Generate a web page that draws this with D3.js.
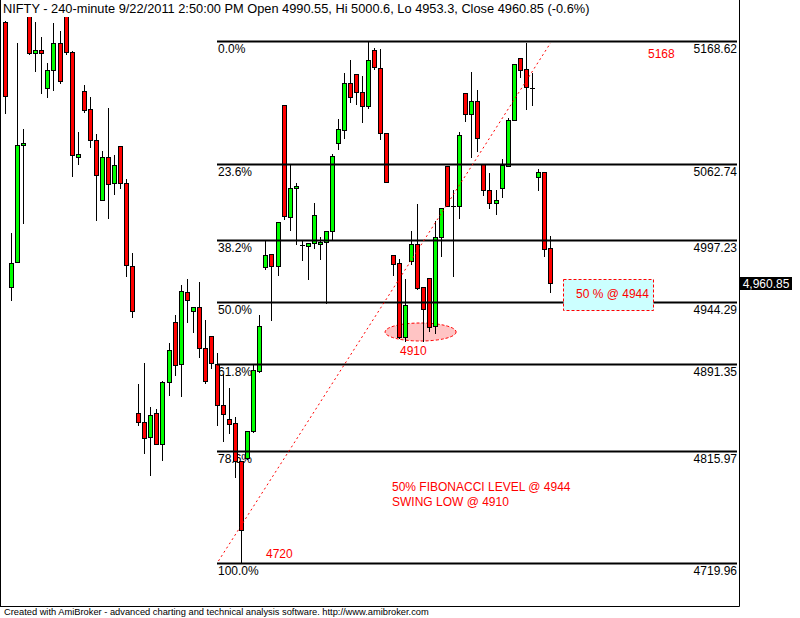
<!DOCTYPE html>
<html><head><meta charset="utf-8">
<script src="https://cdn.jsdelivr.net/npm/d3@7"></script>
<style>body{margin:0;background:#fff} svg{display:block}</style>
</head><body><svg id="c" width="800" height="618"></svg>
<script>
// ---- DATA ----
const opens  = [5184.95,4957.18,4978.67,5079.23,5196.98,5158.31,5160.88,5128.22,5143.69,5166.90,5196.98,5159.17,5068.92,5125.64,5110.17,5083.53,5031.96,5068.92,5046.57,5078.37,5046.57,4975.23,4848.88,4841.15,4828.25,4848.88,4822.24,4875.53,4927.10,4891.00,4952.88,4936.55,4939.99,4904.75,4915.06,4891.00,4855.76,4843.73,4840.29,4807.63,4810.20,4833.41,4884.98,4974.37,4985.54,4975.23,5113.61,5017.35,5042.27,4992.90,4992.42,4995.00,4994.14,4995.86,5005.31,5080.95,5092.12,5132.52,5140.26,5124.79,5112.75,5160.88,5145.41,5089.55,4984.68,4977.81,4914.20,4979.53,4994.14,4957.18,4964.92,4923.66,5000.16,5061.18,5026.80,5026.80,5123.93,5105.88,5117.05,5062.90,5040.55,5029.38,5042.27,5061.18,5100.72,5154.01,5144.55,5128.65,5051.73,5056.02,4990.55];
const highs  = [5186.07,5003.59,5166.90,5092.98,5201.28,5184.95,5172.06,5149.71,5184.09,5177.22,5201.28,5160.02,5090.40,5130.80,5120.49,5088.69,5074.07,5111.03,5070.64,5078.37,5050.01,4986.40,4873.81,4891.86,4854.04,4852.32,4876.39,4909.05,4933.11,4958.90,4964.06,4939.99,4961.48,4928.82,4915.06,4900.45,4882.40,4870.37,4845.44,4807.63,4833.41,4890.14,4933.11,4996.72,4985.54,5013.05,5113.61,5062.90,5046.57,4997.58,4995.00,5029.38,5000.16,5005.31,5071.50,5101.58,5141.12,5152.29,5140.26,5138.54,5168.62,5162.60,5161.74,5089.55,4984.68,4981.25,4964.06,5005.31,5028.52,4957.18,4964.92,5013.91,5025.08,5061.18,5040.55,5090.40,5123.93,5141.98,5126.50,5062.90,5055.16,5040.55,5067.20,5102.44,5148.85,5154.01,5166.90,5141.12,5058.60,5056.02,5000.60];
const lows   = [5106.74,4946.01,4978.67,5012.19,5157.45,5142.83,5123.93,5120.49,5126.50,5132.52,5157.45,5052.59,5062.90,5107.59,5077.51,5014.77,5031.96,5016.49,5037.12,5042.27,4966.64,4931.40,4838.57,4814.50,4795.59,4822.24,4808.49,4864.35,4881.54,4863.49,4927.10,4918.50,4897.01,4874.67,4887.56,4838.57,4824.82,4831.69,4793.87,4719.96,4809.35,4832.55,4884.12,4972.65,4928.82,4967.49,5015.63,5006.17,4994.14,4980.39,4964.06,4990.70,4981.25,4943.43,4997.58,5075.79,5085.25,5116.19,5114.47,5099.00,5111.03,5144.55,5084.39,5047.43,4967.49,4913.35,4910.77,4976.95,4955.46,4910.77,4919.36,4917.64,4983.83,5026.80,4966.64,5016.49,5099.86,5068.92,5074.07,5036.26,5025.08,5019.92,5034.54,5061.18,5100.72,5137.68,5110.17,5113.61,5040.55,4983.83,4953.30];
const closes = [5121.35,4977.81,5079.23,5080.95,5158.31,5160.88,5158.31,5143.69,5166.90,5134.24,5159.17,5070.64,5071.50,5109.31,5083.53,5053.45,5068.92,5045.71,5062.04,5046.57,4976.09,4936.55,4841.15,4827.39,4847.16,4822.24,4875.53,4903.03,4890.14,4953.74,4946.01,4939.99,4904.75,4876.39,4891.86,4855.76,4848.02,4839.43,4807.63,4748.32,4833.41,4885.84,4923.66,4984.68,4975.23,5013.05,5018.21,5042.27,5043.99,4992.90,4995.00,5019.06,4995.86,5005.31,5069.78,5092.98,5132.52,5120.49,5124.79,5112.75,5152.29,5146.27,5089.55,5047.43,4976.95,4914.20,4941.71,4994.14,4956.32,4938.27,4922.80,5000.16,5025.08,5026.80,5026.80,5087.83,5105.88,5117.05,5085.25,5040.55,5029.38,5031.96,5062.04,5100.72,5148.85,5143.69,5129.08,5128.65,5056.02,4989.84,4960.85];

const swingHigh = 5168.62, swingLow = 4719.96;
const fibRatios = [0, 0.236, 0.382, 0.5, 0.618, 0.786, 1];
const fibLabels = ["0.0%", "23.6%", "38.2%", "50.0%", "61.8%", "78.6%", "100.0%"];
const fibStartBar = 35;
const trendFrom = {bar: 35, price: 4719.96};
const trendTo   = {bar: 90, price: 5168.62};
const lastClose = 4960.85;
const headerText = "NIFTY - 240-minute 9/22/2011 2:50:00 PM Open 4990.55, Hi 5000.6, Lo 4953.3, Close 4960.85 (-0.6%)";
const footerText = "Created with AmiBroker - advanced charting and technical analysis software. http://www.amibroker.com";

// ---- DRAW ----
const svg = d3.select("#c");
const plotR = 739.5, plotB = 606.5;
const y = d3.scaleLinear().domain([swingLow, swingHigh]).range([563, 41]);
const x = d3.scaleLinear().domain([0, 90]).range([5.5, 550.5]);
const cx = i => Math.round(x(i) - 0.5) + 0.5;
const ry = v => Math.round(y(v));
const font = "'Liberation Sans', Arial, sans-serif";

// pink ellipse (behind candles)
svg.append("ellipse").attr("cx", (x(65) + x(72)) / 2 + 0.3).attr("cy", y(4910.77) - 9)
  .attr("rx", 35.5).attr("ry", 9)
  .attr("fill", "#ffc4c4").attr("stroke", "#ff0000").attr("stroke-width", 1).attr("stroke-dasharray", "3,2");

// fib labels (beneath candles)
const fibVals = fibRatios.map(r => swingHigh - r * (swingHigh - swingLow));
fibVals.forEach((v, k) => {
  const yy = ry(v);
  svg.append("text").attr("x", cx(fibStartBar) + 0.5).attr("y", yy + 11.5)
    .attr("font-family", font).attr("font-size", 12).attr("fill", "#000").text(fibLabels[k]);
  svg.append("text").attr("x", 737).attr("y", yy + 11.5).attr("text-anchor", "end")
    .attr("font-family", font).attr("font-size", 12).attr("fill", "#000").text(v.toFixed(2));
});

// candles
const g = svg.append("g").attr("shape-rendering", "crispEdges");
opens.forEach((o, i) => {
  const c = closes[i], X = cx(i);
  g.append("line").attr("x1", X).attr("x2", X).attr("y1", ry(highs[i])).attr("y2", ry(lows[i]) + 0.5)
    .attr("stroke", "#000").attr("stroke-width", 1);
  const top = ry(Math.max(o, c)), bot = ry(Math.min(o, c));
  if (bot - top < 1) {
    g.append("line").attr("x1", X - 2.5).attr("x2", X + 2.5).attr("y1", top + 0.5).attr("y2", top + 0.5)
      .attr("stroke", "#000").attr("stroke-width", 1);
  } else {
    g.append("rect").attr("x", X - 2).attr("y", top + 0.5).attr("width", 4).attr("height", bot - top)
      .attr("fill", c >= o ? "#00ff00" : "#ff0000").attr("stroke", "#000").attr("stroke-width", 1);
  }
});

// fib lines (on top)
fibVals.forEach(v => {
  const yy = ry(v);
  svg.append("line").attr("x1", cx(fibStartBar) - 0.5).attr("x2", 737).attr("y1", yy + 0.5).attr("y2", yy + 0.5)
    .attr("stroke", "#000").attr("stroke-width", 2);
});

// dotted trend line
svg.append("line").attr("x1", x(trendFrom.bar) + 1).attr("y1", y(trendFrom.price) - 2)
  .attr("x2", x(trendTo.bar)).attr("y2", y(trendTo.price) + 2)
  .attr("stroke", "#ff0000").attr("stroke-width", 1).attr("stroke-dasharray", "2,3");

// cyan box with text
svg.append("rect").attr("x", 563.5).attr("y", 279.5).attr("width", 90).attr("height", 31)
  .attr("fill", "#ccffff").attr("stroke", "#ff0000").attr("stroke-dasharray", "3,2");
svg.append("text").attr("x", 576).attr("y", 297.5).attr("font-family", font).attr("font-size", 12)
  .attr("fill", "#ff0000").text("50 % @ 4944");

// red annotations
const red = (t, xx, yy) => svg.append("text").attr("x", xx).attr("y", yy).attr("font-family", font)
  .attr("font-size", 12).attr("fill", "#ff0000").text(t);
red("5168", 648, 58);
red("4720", 266, 558);
red("4910", 400, 355);
red("50% FIBONACCI LEVEL @ 4944", 392, 491);
red("SWING LOW @ 4910", 392, 506);

// frame
svg.append("line").attr("x1", 0.5).attr("x2", 0.5).attr("y1", 0).attr("y2", plotB).attr("stroke", "#000");
svg.append("line").attr("x1", plotR).attr("x2", plotR).attr("y1", 0).attr("y2", plotB).attr("stroke", "#000");
svg.append("line").attr("x1", 0).attr("x2", plotR).attr("y1", plotB).attr("y2", plotB).attr("stroke", "#000");

// header
svg.append("rect").attr("x", 1).attr("y", 0).attr("width", 738).attr("height", 17).attr("fill", "#fff");
svg.append("text").attr("x", 3).attr("y", 13).attr("font-family", font).attr("font-size", 12.8)
  .attr("fill", "#000").text(headerText);

// last price box
svg.append("rect").attr("x", 740).attr("y", Math.round(y(lastClose)) - 6).attr("width", 52).attr("height", 13).attr("fill", "#000");
svg.append("text").attr("x", 766).attr("y", Math.round(y(lastClose)) + 5).attr("text-anchor", "middle")
  .attr("font-family", font).attr("font-size", 12).attr("fill", "#fff").text(d3.format(",.2f")(lastClose));

// footer
svg.append("text").attr("x", 4).attr("y", 615).attr("font-family", font).attr("font-size", 9.3)
  .attr("fill", "#000").text(footerText);
</script></body></html>
